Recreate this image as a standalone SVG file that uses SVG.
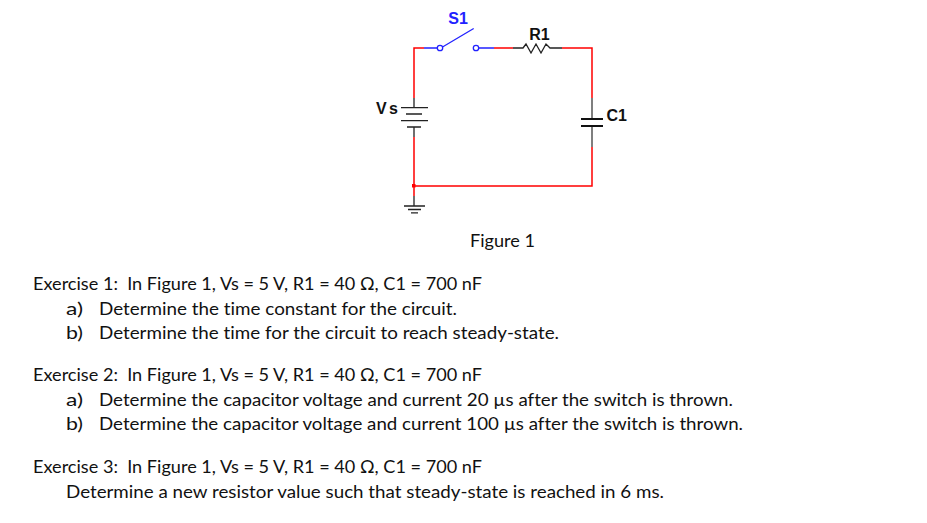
<svg xmlns="http://www.w3.org/2000/svg" width="927" height="523" viewBox="0 0 927 523">
<style>
.w{fill:none;stroke:#f00;stroke-width:1.5}
.k{fill:none;stroke:#222;stroke-width:1.3}
.g{fill:none;stroke:#555;stroke-width:1.5}
.b{fill:none;stroke:#22f;stroke-width:1.3}
.lab{font-family:"Liberation Sans",Arial,sans-serif;font-weight:700;font-size:16px;fill:#111}
.t{font-family:Lato,"Open Sans",sans-serif;font-size:18px;fill:#111;font-variant-ligatures:none}
</style>
<rect width="927" height="523" fill="#fff"/>
<g id="connectors">
<path class="w" d="M424 48H414V98M494 48H513M562 48H592V98M414 137V196M592 147V186H414"/>
<rect x="412" y="184" width="3.5" height="3.5" fill="#f00"/>
</g>
<g id="S1">
<path class="b" d="M424 48H437.300M442.500 47L473.700 28.500M478.700 48H494"/>
<circle class="b" cx="440" cy="48" r="2.700"/>
<circle class="b" cx="476" cy="48" r="2.700"/>
<text x="458" y="23.500" text-anchor="middle" class="lab" style="fill:#22f">S1</text>
</g>
<g id="R1">
<path class="k" d="M513 48H523L526 44L531 53L536 44L541 53L546 44L550 48H562"/>
<text x="539.500" y="39.500" text-anchor="middle" class="lab">R1</text>
</g>
<g id="Vs">
<path class="k" d="M414 98V107.700M401 107.700H428M406 114H422M401 120.700H428M407 127H421M414 127V137"/>
<text x="376" y="113.500" class="lab" textLength="22" lengthAdjust="spacing">Vs</text>
</g>
<g id="C1">
<path class="g" d="M592 98V119M592 126V147"/>
<path fill="none" stroke="#111" stroke-width="2" d="M581 119H603M581 126H603"/>
<text x="606.500" y="120.500" class="lab">C1</text>
</g>
<g id="ground">
<path class="k" d="M414 196V206M404 206H425M408 209.500H421M411 212.800H418"/>
</g>
<g id="text">
<text x="470" y="247" class="t" textLength="65" lengthAdjust="spacingAndGlyphs">Figure 1</text>
<text x="33" y="290" class="t" textLength="449" lengthAdjust="spacingAndGlyphs">Exercise 1:&#160; In Figure 1, Vs = 5 V, R1 = 40 Ω, C1 = 700 nF</text>
<text x="66" y="314.500" class="t" textLength="17" lengthAdjust="spacingAndGlyphs">a)</text>
<text x="99" y="314.500" class="t" textLength="358" lengthAdjust="spacingAndGlyphs">Determine the time constant for the circuit.</text>
<text x="66" y="339" class="t" textLength="17" lengthAdjust="spacingAndGlyphs">b)</text>
<text x="99" y="339" class="t" textLength="460" lengthAdjust="spacingAndGlyphs">Determine the time for the circuit to reach steady-state.</text>
<text x="33" y="381" class="t" textLength="449" lengthAdjust="spacingAndGlyphs">Exercise 2:&#160; In Figure 1, Vs = 5 V, R1 = 40 Ω, C1 = 700 nF</text>
<text x="66" y="406" class="t" textLength="17" lengthAdjust="spacingAndGlyphs">a)</text>
<text x="99" y="406" class="t" textLength="634" lengthAdjust="spacingAndGlyphs">Determine the capacitor voltage and current 20 µs after the switch is thrown.</text>
<text x="66" y="430" class="t" textLength="17" lengthAdjust="spacingAndGlyphs">b)</text>
<text x="99" y="430" class="t" textLength="644" lengthAdjust="spacingAndGlyphs">Determine the capacitor voltage and current 100 µs after the switch is thrown.</text>
<text x="33" y="473" class="t" textLength="449" lengthAdjust="spacingAndGlyphs">Exercise 3:&#160; In Figure 1, Vs = 5 V, R1 = 40 Ω, C1 = 700 nF</text>
<text x="66" y="498" class="t" textLength="598" lengthAdjust="spacingAndGlyphs">Determine a new resistor value such that steady-state is reached in 6 ms.</text>
</g>
</svg>
